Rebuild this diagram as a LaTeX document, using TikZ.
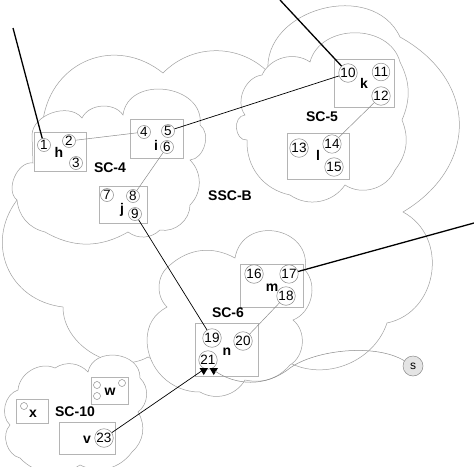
\documentclass[tikz,border=0pt]{standalone}
\usepackage{fontspec}
\setmainfont{Liberation Sans}
\definecolor{cloudgray}{RGB}{160,160,160}
\definecolor{boxgray}{RGB}{180,180,180}
\definecolor{circgray}{RGB}{140,140,140}
\definecolor{sfill}{RGB}{228,228,228}
\begin{document}
\begin{tikzpicture}[x=1pt,y=-1pt,
  cl/.style={draw=cloudgray, line width=0.5pt, fill=white},
  bx/.style={draw=boxgray, line width=0.6pt, fill=white},
  num/.style={circle, draw=circgray, fill=white, line width=0.5pt, inner sep=0.3pt, minimum size=13pt, font=\fontsize{13.5}{14}\selectfont},
  dot/.style={circle, draw=circgray, fill=white, line width=0.5pt, inner sep=0pt, minimum size=7pt},
  lab/.style={font=\bfseries\fontsize{14}{16}\selectfont, inner sep=0pt, anchor=base},
  heavy/.style={draw=black, line width=1.3pt},
  thin/.style={draw=black, line width=0.7pt},
  gline/.style={draw=circgray, line width=0.5pt}]
\useasboundingbox (0,0) rectangle (474,466);
\fill[white] (0,0) rectangle (474,466);
% SSC-B
\draw[cl] (43,120) to[bend left=60, looseness=1.2] (163,73)
 to[bend left=45] (268,72)
 to[bend left=80, looseness=1.2] (400,37)
 to[bend left=60, looseness=1.3] (403,212)
 to[bend left=70, looseness=1.2] (387,323)
 to[bend left=50] (288,362)
 -- (200,385) -- (148,357)
 to[bend left=60] (63,307)
 to[bend left=60, looseness=1.2] (17,200)
 -- (45,170) -- (48,125) -- cycle;
% SC-4
\draw[cl] (32,135) to[bend left=70] (82,118)
 to[bend left=60] (123,115)
 to[bend left=90, looseness=1.35] (200,125)
 to[bend left=70] (190,160)
 to[bend left=45] (190,205)
 to[bend left=50] (160,230)
 to[bend left=40] (128,232)
 to[bend left=30] (45,232)
 to[bend left=35] (17,200)
 to[bend left=75] (33,163)
 -- cycle;
% SC-5
\draw[cl] (245,115) to[bend left=60] (262,75)
 to[bend left=50] (310,62)
 to[bend left=75, looseness=1.15] (400,62)
 to[bend left=25] (402,120)
 to[bend left=30] (395,170)
 to[bend left=50] (345,185)
 to[bend left=45] (290,195)
 to[bend left=40] (247,140)
 to[bend left=90, looseness=1.3] (245,115)
 -- cycle;
% SC-6
\draw[cl] (167,307) to[bend left=50] (170,265)
 to[bend left=35] (235,258)
 to[bend left=90, looseness=1.6] (305,270)
 to[bend left=55] (293,320)
 to[bend left=55] (290,365)
 to[bend left=30] (245,380)
 to[bend left=45] (200,392)
 to[bend left=45] (147,340)
 to[bend left=30] (167,307) -- cycle;
% SC-10
\draw[cl] (18,390) to[bend left=55] (55,368)
 to[bend left=40] (88,372)
 to[bend left=85, looseness=1.3] (140,378)
 to[bend left=50] (138,412)
 to[bend left=40] (132,452)
 to[bend left=40] (80,465)
 to[bend left=40] (20,458)
 to[bend left=60] (10,425)
 to[bend left=60] (18,390) -- cycle;
% boxes
\draw[bx] (34,132) rectangle (86,171);
\draw[bx] (130,119) rectangle (183,158);
\draw[bx] (99,186) rectangle (147,223);
\draw[bx] (334,59) rectangle (394,107);
\draw[bx] (287,133) rectangle (349,179);
\draw[bx] (240,264) rectangle (303,307);
\draw[bx] (195,323) rectangle (258,376);
\draw[bx] (16,399) rectangle (48,423);
\draw[bx] (91,377) rectangle (128,404);
\draw[bx] (59,422) rectangle (115,454);
% circles
\node[num] (c1) at (44,145) {1};
\node[num] (c2) at (69,141) {2};
\node[num] (c3) at (76,163) {3};
\node[num] (c4) at (144,132) {4};
\node[num] (c5) at (168,131) {5};
\node[num] (c6) at (167,147) {6};
\node[num] (c7) at (107,195) {7};
\node[num] (c8) at (133,196) {8};
\node[num] (c9) at (135,214) {9};
\node[num] (c10) at (348,73) {10};
\node[num] (c11) at (381,72) {11};
\node[num] (c12) at (381,96) {12};
\node[num] (c13) at (299,148) {13};
\node[num] (c14) at (332,144) {14};
\node[num] (c15) at (334,167) {15};
\node[num] (c16) at (254,274) {16};
\node[num] (c17) at (289,274) {17};
\node[num] (c18) at (286,296) {18};
\node[num] (c19) at (212,338) {19};
\node[num] (c20) at (243,341) {20};
\node[num] (c21) at (208,360) {21};
\node[num] (c23) at (104,438) {23};
\node[dot] (d1) at (24,406) {};
\node[dot] (d2) at (97,385) {};
\node[dot] (d3) at (97,396) {};
\node[dot] (d4) at (122,383) {};
\node[circle, draw=circgray, fill=sfill, line width=0.5pt, minimum size=20pt, inner sep=0pt, font=\fontsize{12}{14}\selectfont] (s) at (413,366) {s};
% triangles
\fill[black] (199.5,368) -- (208,368) -- (203.75,375) -- cycle;
\fill[black] (209.5,368) -- (218,368) -- (213.75,375) -- cycle;
\coordinate (t1) at (203,370);
\coordinate (t2) at (215,371);
% labels
\node[lab] (lh) at (59,157) {h};
\node[lab] (li) at (156,150) {i};
\node[lab] (lj) at (122,213) {j};
\node[lab] (lk) at (364,88) {k};
\node[lab] (ll) at (318,160) {l};
\node[lab] (lm) at (272,291) {m};
\node[lab] (ln) at (227,355) {n};
\node[lab] (lx) at (33,417) {x};
\node[lab] (lw) at (110,395) {w};
\node[lab] (lv) at (87,443) {v};
\node[lab] (sc4) at (110,172) {SC-4};
\node[lab] (sc5) at (322,121) {SC-5};
\node[lab] (sc6) at (228,317) {SC-6};
\node[lab] (sc10) at (75,416) {SC-10};
\node[lab] (sscb) at (230,200) {SSC-B};
% free ends
\coordinate (e1) at (13,28);
\coordinate (e2) at (280,0);
\coordinate (e3) at (474,223);
% connectors
\draw[heavy] (e1) -- (c1);
\draw[heavy] (e2) -- (c10);
\draw[heavy] (e3) -- (c17);
\draw[thin] (c5) -- (c10);
\draw[thin] (c9) -- (c19);
\draw[thin] (c23) -- (t1);
\draw[gline] (c2) -- (c4);
\draw[gline] (c6) -- (c8);
\draw[gline] (c12) -- (c14);
\draw[gline] (c18) -- (c20);
\draw[gline] (t2) .. controls (235,385) and (265,388) .. (290,368) .. controls (315,350) and (375,343) .. (s);
\end{tikzpicture}
\end{document}
